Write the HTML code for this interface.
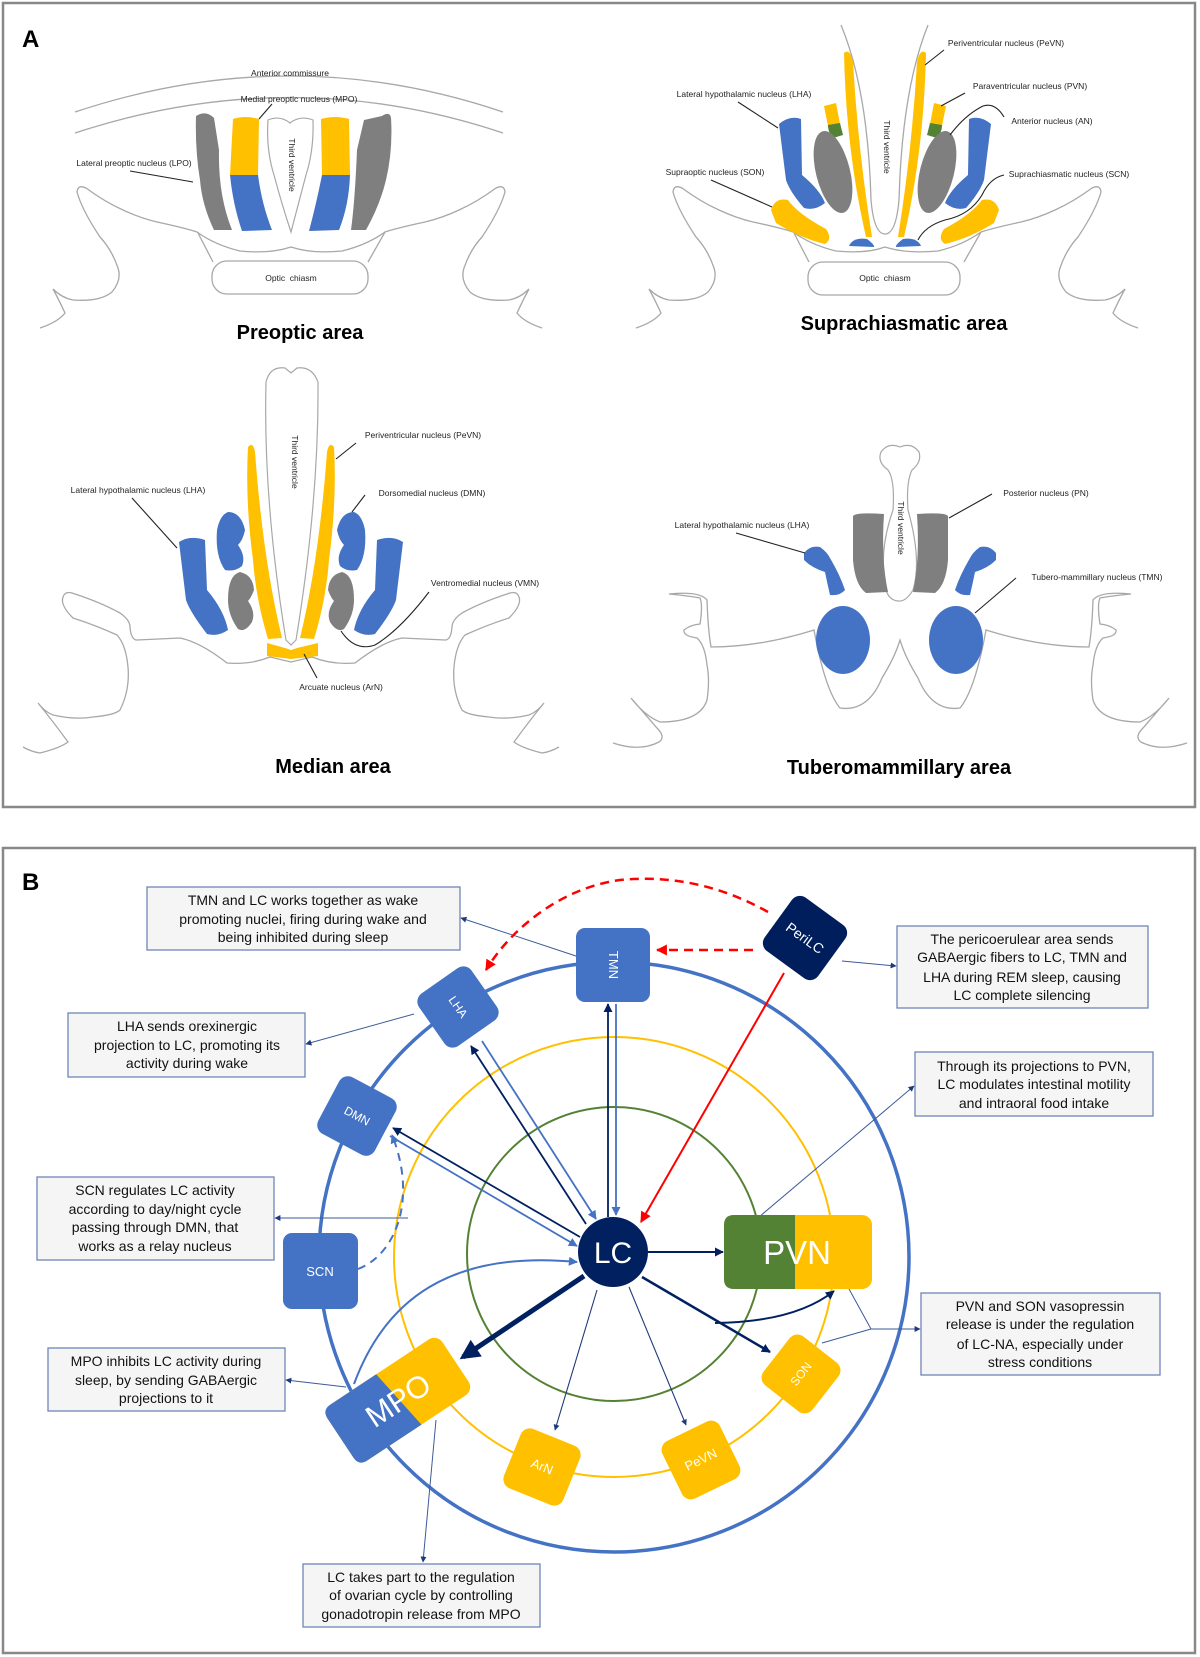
<!DOCTYPE html>
<html><head><meta charset="utf-8"><style>
html,body{margin:0;padding:0;background:#fff}
svg{display:block}
text{font-family:"Liberation Sans",Arial,sans-serif}
.lb{font-size:8.5px;fill:#222}
.tt{font-size:20px;font-weight:bold;fill:#000}
.ol{fill:none;stroke:#a8a8a8;stroke-width:1.3}
.ld{stroke:#222;stroke-width:1.1;fill:none}
.bx{fill:#f5f5f5;stroke:#6f84b8;stroke-width:1.3}
.bt{font-size:14px;fill:#111;text-anchor:middle}
.nt{fill:#fff;text-anchor:middle}
.th{stroke:#3d5a99;stroke-width:1;fill:none}
</style></head><body>
<svg width="1200" height="1657" viewBox="0 0 1200 1657" xmlns="http://www.w3.org/2000/svg">
<defs>
<marker id="mn" viewBox="0 0 10 10" refX="9" refY="5" markerWidth="9" markerHeight="9" markerUnits="userSpaceOnUse" orient="auto"><path d="M0,0L10,5L0,10z" fill="#002060"/></marker>
<marker id="mb" viewBox="0 0 10 10" refX="9" refY="5" markerWidth="9" markerHeight="9" markerUnits="userSpaceOnUse" orient="auto"><path d="M0,0L10,5L0,10z" fill="#4472c4"/></marker>
<marker id="mr" viewBox="0 0 10 10" refX="9" refY="5" markerWidth="11" markerHeight="11" markerUnits="userSpaceOnUse" orient="auto"><path d="M0,0L10,5L0,10z" fill="#ff0000"/></marker>
<marker id="mt" viewBox="0 0 10 10" refX="9" refY="5" markerWidth="6" markerHeight="6" markerUnits="userSpaceOnUse" orient="auto"><path d="M0,0L10,5L0,10z" fill="#1f3a7a"/></marker>
<marker id="mbig" viewBox="0 0 10 10" refX="8" refY="5" markerWidth="20" markerHeight="20" markerUnits="userSpaceOnUse" orient="auto"><path d="M0,0L10,5L0,10z" fill="#002060"/></marker>
</defs>

<!-- PANEL A -->
<rect x="3" y="3" width="1192" height="804" fill="#fff" stroke="#888" stroke-width="2.5"/>
<text x="22" y="47" style="font-size:24px;font-weight:bold">A</text>

<!-- Preoptic -->
<path class="ol" d="M75,112 Q291,40 503,112"/>
<path class="ol" d="M75,133 Q291,62 503,133"/>
<text class="lb" x="290" y="76" text-anchor="middle">Anterior commissure</text>
<path class="ol" d="M40,328 Q58,322 65,313 Q58,298 53,289 Q62,298 73,300 Q100,302 112,292 Q122,280 118,268 Q112,250 100,237 Q82,210 77,192 Q78,184 86,188 Q105,202 123,210 Q140,218 157,222 Q185,228 197,232 Q215,245 240,251 Q270,254 291,247 Q312,254 342,251 Q367,245 385,232 Q397,228 425,222 Q442,218 459,210 Q477,202 496,188 Q504,184 505,192 Q500,210 482,237 Q470,250 464,268 Q460,280 470,292 Q482,302 509,300 Q520,298 529,289 Q524,298 517,313 Q524,322 542,328"/>
<path class="ol" d="M198,233 L213,262 M385,232 L368,262"/>
<rect class="ol" x="212" y="261" width="156" height="33" rx="15"/>
<text class="lb" x="291" y="281" text-anchor="middle">Optic &#160;chiasm</text>
<path d="M196,116 Q206,110 214,118 L219,150 Q218,195 232,230 L214,230 Q202,205 200,180 Q195,150 196,116Z" fill="#7f7f7f"/>
<path d="M233,119 Q245,115 259,119 L258,175 L230,175Z" fill="#ffc000"/>
<path d="M230,175 L258,175 Q262,205 272,230 L242,231 Q233,205 230,175Z" fill="#4472c4"/>
<path d="M268,120 Q280,115 290,123 Q300,115 313,120 Q314,150 306,175 Q298,205 291,232 Q282,205 274,175 Q266,150 268,120Z" fill="#fff" stroke="#a8a8a8" stroke-width="1.2"/>
<path d="M321,119 Q335,115 349,119 L350,175 L322,175Z" fill="#ffc000"/>
<path d="M322,175 L350,175 Q349,205 339,230 L309,231 Q316,205 322,175Z" fill="#4472c4"/>
<path d="M382,116 Q390,111 391,118 Q393,150 386,180 Q380,205 366,230 L351,230 Q355,200 357,150 L364,120Z" fill="#7f7f7f"/>
<text class="lb" x="289" y="165" transform="rotate(90 289 165)" text-anchor="middle">Third ventricle</text>
<text class="lb" x="299" y="102" text-anchor="middle">Medial preoptic nucleus (MPO)</text>
<path class="ld" d="M272,104 L259,119"/>
<text class="lb" x="134" y="166" text-anchor="middle">Lateral preoptic nucleus (LPO)</text>
<path class="ld" d="M130,171 L193,182"/>
<text class="tt" x="300" y="339" text-anchor="middle">Preoptic area</text>

<!-- Suprachiasmatic -->
<g transform="translate(596,0)">
<path class="ol" d="M40,328 Q58,322 65,313 Q58,298 53,289 Q62,298 73,300 Q100,302 112,292 Q122,280 118,268 Q112,250 100,237 Q82,210 77,192 Q78,184 86,188 Q105,202 123,210 Q140,218 157,222 Q185,228 197,232 Q215,245 240,251 Q270,254 289,247 Q310,254 342,251 Q367,245 385,232 Q397,228 425,222 Q442,218 459,210 Q477,202 496,188 Q504,184 505,192 Q500,210 482,237 Q470,250 464,268 Q460,280 470,292 Q482,302 509,300 Q520,298 529,289 Q524,298 517,313 Q524,322 542,328"/>
<path class="ol" d="M198,233 L213,262 M385,232 L368,262"/>
<rect class="ol" x="212" y="262" width="152" height="33" rx="15"/>
<text class="lb" x="289" y="281" text-anchor="middle">Optic &#160;chiasm</text>
</g>
<path class="ol" d="M841,25 Q868,90 871,200 Q874,234 885,234 Q896,234 899,200 Q902,90 928,25"/>
<path d="M844,53 Q850,48 853,62 Q858,150 872,237 L866,237 Q846,150 844,53Z" fill="#ffc000"/>
<path d="M926,53 Q920,48 917,62 Q912,150 898,237 L904,237 Q924,150 926,53Z" fill="#ffc000"/>
<path d="M824,106 L836,103 L840,124 L828,126Z" fill="#ffc000"/>
<path d="M828,125 L840,123 L843,135 L833,138 Q828,133 828,125Z" fill="#548235"/>
<path d="M946,106 L934,103 L930,124 L942,126Z" fill="#ffc000"/>
<path d="M942,125 L930,123 L927,135 L937,138 Q942,133 942,125Z" fill="#548235"/>
<ellipse cx="833" cy="172" rx="17" ry="42" transform="rotate(-14 833 172)" fill="#7f7f7f"/>
<ellipse cx="937" cy="172" rx="17" ry="42" transform="rotate(14 937 172)" fill="#7f7f7f"/>
<path d="M779,124 Q790,115 801,119 L802,175 Q820,190 825,203 Q815,211 804,208 Q790,192 786,180Z" fill="#4472c4"/>
<path d="M991,124 Q980,115 969,119 L968,175 Q950,190 945,203 Q955,211 966,208 Q980,192 984,180Z" fill="#4472c4"/>
<path d="M771,210 Q775,197 788,200 Q798,214 826,229 Q833,239 825,244 Q800,238 776,223Z" fill="#ffc000"/>
<path d="M999,210 Q995,197 982,200 Q972,214 944,229 Q937,239 945,244 Q970,238 994,223Z" fill="#ffc000"/>
<path d="M849,246 Q853,237 867,239 Q875,245 874,247Z" fill="#4472c4"/>
<path d="M921,246 Q917,237 903,239 Q895,245 896,247Z" fill="#4472c4"/>
<text class="lb" x="884" y="147" transform="rotate(90 884 147)" text-anchor="middle">Third ventricle</text>
<text class="lb" x="1006" y="46" text-anchor="middle">Periventricular nucleus (PeVN)</text>
<path class="ld" d="M944,50 L925,65"/>
<text class="lb" x="1030" y="89" text-anchor="middle">Paraventricular nucleus (PVN)</text>
<path class="ld" d="M965,93 L941,106"/>
<text class="lb" x="1052" y="124" text-anchor="middle">Anterior nucleus (AN)</text>
<path class="ld" d="M1004,117 Q995,102 983,106 Q965,115 950,135"/>
<text class="lb" x="744" y="97" text-anchor="middle">Lateral hypothalamic nucleus (LHA)</text>
<path class="ld" d="M738,102 L778,128"/>
<text class="lb" x="715" y="175" text-anchor="middle">Supraoptic nucleus (SON)</text>
<path class="ld" d="M711,180 L772,207"/>
<text class="lb" x="1069" y="177" text-anchor="middle">Suprachiasmatic nucleus (SCN)</text>
<path class="ld" d="M1004,175 Q990,178 982,195 Q970,215 945,220 Q925,226 918,240"/>
<text class="tt" x="904" y="330" text-anchor="middle">Suprachiasmatic area</text>

<!-- Median -->
<path class="ol" d="M23,747 Q32,752 40,753 Q60,748 68,742 Q52,720 38,703 Q45,712 53,715 Q75,720 93,717 Q115,715 120,710 Q130,690 128,667 Q126,645 117,635 Q95,625 73,618 Q60,605 63,597 Q65,591 72,593 Q100,602 120,613 Q130,620 130,627 Q131,640 137,640 Q160,639 180,638 Q200,642 227,663 Q250,665 270,657 L291,662 L312,657 Q332,665 355,663 Q382,642 402,638 Q422,639 445,640 Q451,640 452,627 Q452,620 462,613 Q482,602 510,593 Q517,591 519,597 Q522,605 509,618 Q487,625 465,635 Q456,645 454,667 Q452,690 462,710 Q467,715 489,717 Q507,720 529,715 Q537,712 544,703 Q530,720 514,742 Q522,748 542,753 Q550,752 559,747"/>
<path d="M266,382 Q270,366 285,368 L291,373 L297,368 Q312,366 318,382 Q319,500 296,640 L291,645 L286,640 Q263,500 266,382Z" fill="#fff" stroke="#a8a8a8" stroke-width="1.2"/>
<path d="M248,447 Q253,441 255,452 Q263,560 282,638 L268,639 Q256,600 253,560 Q245,500 248,447Z" fill="#ffc000"/>
<path d="M334,447 Q329,441 327,452 Q319,560 300,638 L314,639 Q326,600 329,560 Q337,500 334,447Z" fill="#ffc000"/>
<path d="M267,643 L285,648 L291,650 L297,648 L318,643 L318,656 L291,659 L267,656Z" fill="#ffc000"/>
<path d="M228,512 Q241,512 245,530 Q243,540 238,545 Q246,556 242,566 Q235,572 225,570 Q215,556 217,530 Q220,515 228,512Z" fill="#4472c4"/>
<path d="M354,512 Q341,512 337,530 Q339,540 344,545 Q336,556 340,566 Q347,572 357,570 Q367,556 365,530 Q362,515 354,512Z" fill="#4472c4"/>
<path d="M240,572 Q253,575 254,590 Q251,598 248,601 Q256,612 252,622 Q245,633 238,629 Q228,615 228,600 Q228,575 240,572Z" fill="#7f7f7f"/>
<path d="M342,572 Q329,575 328,590 Q331,598 334,601 Q326,612 330,622 Q337,633 344,629 Q354,615 354,600 Q354,575 342,572Z" fill="#7f7f7f"/>
<path d="M179,542 Q190,535 205,540 L207,590 Q224,610 228,630 Q218,637 207,634 Q190,612 186,600Z" fill="#4472c4"/>
<path d="M403,542 Q392,535 377,540 L375,590 Q358,610 354,630 Q364,637 375,634 Q392,612 396,600Z" fill="#4472c4"/>
<text class="lb" x="292" y="462" transform="rotate(90 292 462)" text-anchor="middle">Third ventricle</text>
<text class="lb" x="423" y="438" text-anchor="middle">Periventricular nucleus (PeVN)</text>
<path class="ld" d="M356,443 L336,459"/>
<text class="lb" x="138" y="493" text-anchor="middle">Lateral hypothalamic nucleus (LHA)</text>
<path class="ld" d="M132,498 L177,548"/>
<text class="lb" x="432" y="496" text-anchor="middle">Dorsomedial nucleus (DMN)</text>
<path class="ld" d="M365,495 L352,512"/>
<text class="lb" x="485" y="586" text-anchor="middle">Ventromedial nucleus (VMN)</text>
<path class="ld" d="M429,592 Q400,630 375,645 Q355,652 341,631"/>
<text class="lb" x="341" y="690" text-anchor="middle">Arcuate nucleus (ArN)</text>
<path class="ld" d="M317,678 L304,654"/>
<text class="tt" x="333" y="773" text-anchor="middle">Median area</text>

<!-- Tuberomammillary -->
<path class="ol" d="M613,743 Q640,752 659,742 Q666,737 657,728 L631,698 Q645,716 660,722 Q700,722 707,700 Q710,680 707,665 Q705,645 697,638 Q683,636 684,630 Q690,625 700,624 Q703,605 700,598 Q690,596 669,594 Q700,591 707,600 Q708,630 711,647 Q760,647 814,630 Q825,690 840,708 Q868,712 882,678 Q893,660 898,646 L900,640 L902,646 Q907,660 918,678 Q932,712 960,708 Q975,690 986,630 Q1040,647 1089,647 Q1092,630 1093,600 Q1100,591 1131,594 Q1110,596 1100,598 Q1097,605 1100,624 Q1110,625 1116,630 Q1117,636 1103,638 Q1095,645 1093,665 Q1090,680 1093,700 Q1100,722 1140,722 Q1155,716 1169,698 L1143,728 Q1134,737 1141,742 Q1160,752 1187,743"/>
<path d="M881,452 Q888,442 900,447 Q912,442 919,452 Q922,462 912,470 Q906,482 908,510 Q922,560 913,590 Q906,602 898,601 Q887,600 885,585 Q879,550 893,510 Q895,480 888,470 Q877,462 881,452Z" fill="#fff" stroke="#a8a8a8" stroke-width="1.2"/>
<path d="M853,516 Q856,512 884,514 Q881,560 888,592 L866,593 Q855,585 853,560Z" fill="#7f7f7f"/>
<path d="M948,516 Q945,512 917,514 Q920,560 913,592 L935,593 Q946,585 948,560Z" fill="#7f7f7f"/>
<path d="M804,553 Q810,545 820,547 Q827,552 830,558 Q840,575 845,590 Q840,596 830,595 Q827,582 825,572 Q812,568 804,560Z" fill="#4472c4"/>
<path d="M996,553 Q990,545 980,547 Q973,552 970,558 Q960,575 955,590 Q960,596 970,595 Q973,582 975,572 Q988,568 996,560Z" fill="#4472c4"/>
<ellipse cx="843" cy="640" rx="27" ry="34" fill="#4472c4"/>
<ellipse cx="956" cy="640" rx="27" ry="34" fill="#4472c4"/>
<text class="lb" x="898" y="528" transform="rotate(90 898 528)" text-anchor="middle">Third ventricle</text>
<text class="lb" x="1046" y="496" text-anchor="middle">Posterior nucleus (PN)</text>
<path class="ld" d="M992,494 L949,518"/>
<text class="lb" x="742" y="528" text-anchor="middle">Lateral hypothalamic nucleus (LHA)</text>
<path class="ld" d="M736,533 L805,553"/>
<text class="lb" x="1097" y="580" text-anchor="middle">Tubero-mammillary nucleus (TMN)</text>
<path class="ld" d="M1016,578 L975,613"/>
<text class="tt" x="899" y="774" text-anchor="middle">Tuberomammillary area</text>

<!-- PANEL B -->
<rect x="3" y="848" width="1192" height="805" fill="#fff" stroke="#888" stroke-width="2.5"/>
<text x="22" y="890" style="font-size:24px;font-weight:bold">B</text>

<circle cx="614" cy="1257" r="295" fill="none" stroke="#4472c4" stroke-width="3.5"/>
<circle cx="614" cy="1257" r="220" fill="none" stroke="#ffc000" stroke-width="2"/>
<circle cx="614" cy="1254" r="147" fill="none" stroke="#548235" stroke-width="2"/>

<rect class="bx" x="147" y="887" width="313" height="63"/>
<text class="bt" x="303" y="905">TMN  and LC works together as wake</text>
<text class="bt" x="303" y="924">promoting nuclei, firing during wake and</text>
<text class="bt" x="303" y="942">being inhibited during sleep</text>

<rect class="bx" x="68" y="1013" width="237" height="64"/>
<text class="bt" x="187" y="1031">LHA sends orexinergic</text>
<text class="bt" x="187" y="1050">projection to LC, promoting its</text>
<text class="bt" x="187" y="1068">activity during wake</text>

<rect class="bx" x="37" y="1177" width="237" height="83"/>
<text class="bt" x="155" y="1195">SCN regulates LC activity</text>
<text class="bt" x="155" y="1214">according to day/night cycle</text>
<text class="bt" x="155" y="1232">passing through DMN, that</text>
<text class="bt" x="155" y="1251">works as a relay nucleus</text>

<rect class="bx" x="48" y="1348" width="237" height="63"/>
<text class="bt" x="166" y="1366">MPO inhibits LC activity during</text>
<text class="bt" x="166" y="1385">sleep, by sending GABAergic</text>
<text class="bt" x="166" y="1403">projections to it</text>

<rect class="bx" x="303" y="1564" width="237" height="63"/>
<text class="bt" x="421" y="1582">LC takes part to the regulation</text>
<text class="bt" x="421" y="1600">of ovarian cycle by controlling</text>
<text class="bt" x="421" y="1619">gonadotropin release from MPO</text>

<rect class="bx" x="897" y="926" width="251" height="82"/>
<text class="bt" x="1022" y="944">The pericoerulear area sends</text>
<text class="bt" x="1022" y="962">GABAergic fibers to LC, TMN and</text>
<text class="bt" x="1022" y="982">LHA during REM sleep, causing</text>
<text class="bt" x="1022" y="1000">LC complete silencing</text>

<rect class="bx" x="915" y="1052" width="238" height="64"/>
<text class="bt" x="1034" y="1071">Through its projections to PVN,</text>
<text class="bt" x="1034" y="1089">LC modulates intestinal motility</text>
<text class="bt" x="1034" y="1108">and intraoral food intake</text>

<rect class="bx" x="921" y="1293" width="239" height="82"/>
<text class="bt" x="1040" y="1311">PVN and SON vasopressin</text>
<text class="bt" x="1040" y="1329">release is under the regulation</text>
<text class="bt" x="1040" y="1349">of LC-NA, especially under</text>
<text class="bt" x="1040" y="1367">stress conditions</text>

<path class="th" d="M576,956 L461,918" marker-end="url(#mt)"/>
<path class="th" d="M414,1014 L306,1044" marker-end="url(#mt)"/>
<path class="th" d="M408,1218 L275,1218" marker-end="url(#mt)"/>
<path class="th" d="M346,1387 L286,1380" marker-end="url(#mt)"/>
<path class="th" d="M436,1420 L423,1562" marker-end="url(#mt)"/>
<path class="th" d="M842,961 L896,966" marker-end="url(#mt)"/>
<path class="th" d="M759,1217 L914,1086" marker-end="url(#mt)"/>
<path class="th" d="M849,1289 L871,1329 M822,1343 L871,1329"/>
<path class="th" d="M871,1329 L920,1329" marker-end="url(#mt)"/>

<path d="M753,950 L657,950" stroke="#ff0000" stroke-width="2.5" stroke-dasharray="9 6" fill="none" marker-end="url(#mr)"/>
<path d="M768,912 C720,885 670,875 620,880 C560,888 510,930 486,970" stroke="#ff0000" stroke-width="2.5" stroke-dasharray="9 6" fill="none" marker-end="url(#mr)"/>
<path d="M784,973 L641,1222" stroke="#ff0000" stroke-width="2" fill="none" marker-end="url(#mr)"/>

<path d="M608,1217 L608,1004" stroke="#002060" stroke-width="1.8" marker-end="url(#mn)"/>
<path d="M616,1004 L616,1215" stroke="#4472c4" stroke-width="1.8" marker-end="url(#mb)"/>
<path d="M586,1224 L471,1046" stroke="#002060" stroke-width="1.8" marker-end="url(#mn)"/>
<path d="M482,1041 L596,1219" stroke="#4472c4" stroke-width="1.8" marker-end="url(#mb)"/>
<path d="M580,1237 L393,1128" stroke="#002060" stroke-width="1.8" marker-end="url(#mn)"/>
<path d="M390,1136 L577,1246" stroke="#4472c4" stroke-width="1.8" marker-end="url(#mb)"/>
<path d="M358,1269 C395,1255 418,1200 392,1135" stroke="#4472c4" stroke-width="2" stroke-dasharray="8 6" fill="none" marker-end="url(#mb)"/>
<path d="M354,1384 C385,1300 450,1250 577,1262" stroke="#4472c4" stroke-width="2" fill="none" marker-end="url(#mb)"/>
<path d="M648,1252 L723,1252" stroke="#002060" stroke-width="2" marker-end="url(#mn)"/>
<path d="M642,1277 L770,1352" stroke="#002060" stroke-width="2.5" marker-end="url(#mn)"/>
<path d="M715,1323 Q795,1322 834,1291" stroke="#002060" stroke-width="2" fill="none" marker-end="url(#mn)"/>
<path d="M629,1287 L686,1425" stroke="#1f3a7a" stroke-width="1.1" marker-end="url(#mt)"/>
<path d="M597,1290 L555,1430" stroke="#1f3a7a" stroke-width="1.1" marker-end="url(#mt)"/>
<path d="M584,1276 L463,1357" stroke="#002060" stroke-width="5" marker-end="url(#mbig)"/>

<rect x="576" y="928" width="74" height="74" rx="9" fill="#4472c4"/>
<text class="nt" x="613" y="969" transform="rotate(90 613 965)" style="font-size:13px">TMN</text>

<g transform="translate(805,938) rotate(36)"><rect x="-33" y="-33" width="66" height="66" rx="10" fill="#001d5c"/><text class="nt" x="0" y="5" style="font-size:14px">PeriLC</text></g>
<g transform="translate(458,1007) rotate(55)"><rect x="-32" y="-32" width="64" height="64" rx="10" fill="#4472c4"/><text class="nt" x="0" y="4" style="font-size:12px">LHA</text></g>
<g transform="translate(357,1116) rotate(28)"><rect x="-32" y="-32" width="64" height="64" rx="10" fill="#4472c4"/><text class="nt" x="0" y="4" style="font-size:12px">DMN</text></g>
<rect x="283" y="1233" width="75" height="76" rx="9" fill="#4472c4"/>
<text class="nt" x="320" y="1276" style="font-size:13px">SCN</text>

<g transform="translate(801,1374) rotate(-52)"><rect x="-31" y="-31" width="62" height="62" rx="10" fill="#ffc000"/><text class="nt" x="0" y="4" style="font-size:12px">SON</text></g>
<g transform="translate(701,1460) rotate(-26)"><rect x="-32" y="-32" width="64" height="64" rx="10" fill="#ffc000"/><text class="nt" x="0" y="4" style="font-size:13px">PeVN</text></g>
<g transform="translate(542,1467) rotate(22)"><rect x="-32" y="-32" width="64" height="64" rx="10" fill="#ffc000"/><text class="nt" x="0" y="4" style="font-size:13px">ArN</text></g>

<g transform="translate(398,1400) rotate(-33.5)">
<rect x="-69" y="-33.5" width="138" height="67" rx="10" fill="#ffc000"/>
<path d="M-59,-33.5 L-4,-33.5 L6,33.5 L-59,33.5 Q-69,33.5 -69,23.5 L-69,-23.5 Q-69,-33.5 -59,-33.5Z" fill="#4472c4"/>
<text class="nt" x="0" y="11" style="font-size:31px">MPO</text>
</g>

<rect x="724" y="1215" width="148" height="74" rx="10" fill="#ffc000"/>
<path d="M734,1215 L795,1215 L795,1289 L734,1289 Q724,1289 724,1279 L724,1225 Q724,1215 734,1215Z" fill="#548235"/>
<text class="nt" x="797" y="1264" style="font-size:33px">PVN</text>

<circle cx="613" cy="1252" r="35" fill="#002060"/>
<text class="nt" x="613" y="1263" style="font-size:30px">LC</text>
</svg>
</body></html>
